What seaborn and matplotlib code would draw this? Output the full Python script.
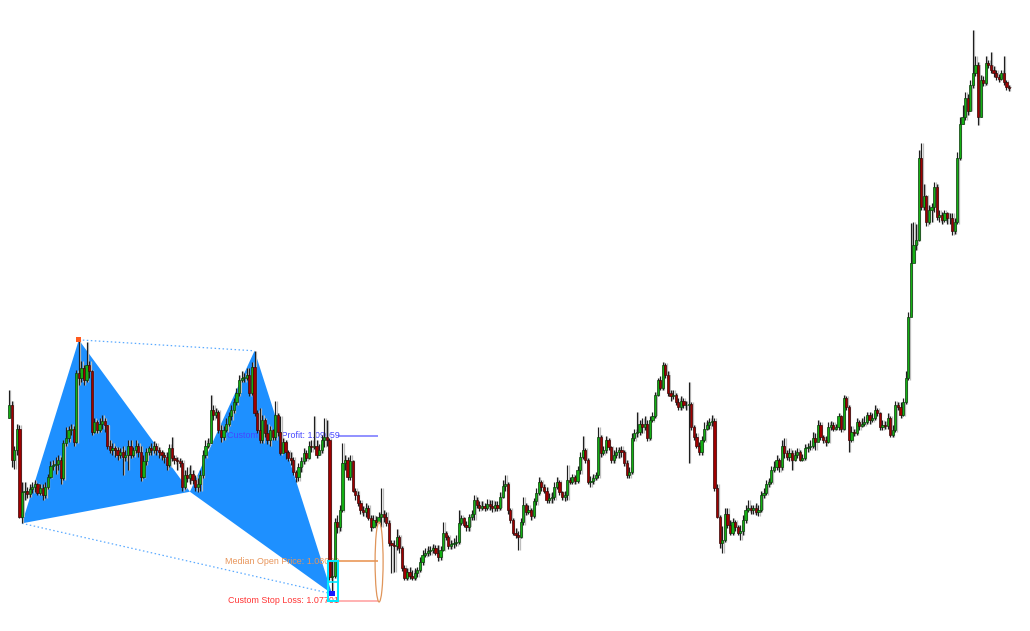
import matplotlib
matplotlib.use("Agg")
import matplotlib.pyplot as plt
from matplotlib.patches import Polygon, Rectangle, Ellipse
import numpy as np
import pandas as pd
import seaborn as sns

# ------------------------------------------------------------------
#  Candle data, open = previous close
# ------------------------------------------------------------------
first_open = 1.0921

closes = [
    # X -> A -> B leg
    1.0931, 1.0886, 1.0894, 1.0912, 1.0839, 1.0860, 1.0861, 1.0858, 1.0862, 1.0864,
    1.0866, 1.0859, 1.0863, 1.0857, 1.0864, 1.0872, 1.0881, 1.0882, 1.0883, 1.0886,
    1.0871, 1.0900, 1.0904, 1.0911, 1.0912, 1.0901, 1.0958, 1.0954, 1.0962, 1.0952,
    1.0964, 1.0959, 1.0909, 1.0917, 1.0911, 1.0916, 1.0918, 1.0915, 1.0898, 1.0894,
    1.0896, 1.0894, 1.0890, 1.0893, 1.0889, 1.0890, 1.0898,
    1.0890, 1.0894, 1.0898, 1.0893, 1.0872, 1.0885, 1.0893, 1.0896, 1.0894, 1.0898,
    1.0894, 1.0893, 1.0890, 1.0889, 1.0882, 1.0896, 1.0888, 1.0886, 1.0885, 1.0884,
    1.0864, 1.0874, 1.0871, 1.0875, 1.0870, 1.0864, 1.0866, 1.0874, 1.0890, 1.0898,
    1.0900, 1.0927, 1.0923, 1.0926, 1.0911, 1.0905, 1.0911, 1.0916, 1.0922, 1.0927,
    1.0934, 1.0941, 1.0952, 1.0954, 1.0954, 1.0956, 1.0941, 1.0963, 1.0925, 1.0911,
    # C -> D leg and rebound
    1.0903, 1.0919, 1.0908, 1.0903, 1.0911, 1.0905, 1.0923, 1.0909, 1.0892, 1.0901,
    1.0893, 1.0888, 1.0886, 1.0876, 1.0872, 1.0880, 1.0885, 1.0892, 1.0888, 1.0898,
    1.0897, 1.0898, 1.0890, 1.0894, 1.0903, 1.0905, 1.0903, 1.0790, 1.0791, 1.0835,
    1.0831, 1.0845, 1.0884, 1.0886, 1.0872, 1.0885, 1.0861, 1.0857, 1.0851, 1.0845,
    1.0843, 1.0847, 1.0838, 1.0831, 1.0837, 1.0835,
    1.0839, 1.0842, 1.0839, 1.0834, 1.0818, 1.0816,
    # bottom and slow climb
    1.0815, 1.0823, 1.0814, 1.0797, 1.0789, 1.0794, 1.0791, 1.0789, 1.0793, 1.0796,
    1.0802, 1.0808, 1.0810, 1.0811,
    1.0812, 1.0814, 1.0810, 1.0806, 1.0812, 1.0826, 1.0823, 1.0815, 1.0817, 1.0818,
    1.0819, 1.0834, 1.0838, 1.0833, 1.0831, 1.0839, 1.0842, 1.0853, 1.0849, 1.0847,
    1.0848, 1.0847, 1.0850, 1.0848,
    1.0847, 1.0849, 1.0847, 1.0856, 1.0865, 1.0866, 1.0845, 1.0837, 1.0826, 1.0824,
    1.0823, 1.0835, 1.0849, 1.0843, 1.0845, 1.0840, 1.0852, 1.0859, 1.0868, 1.0864,
    1.0861, 1.0853, 1.0855,
    1.0856, 1.0864, 1.0868, 1.0860, 1.0856, 1.0857, 1.0870, 1.0868, 1.0872, 1.0869,
    1.0878, 1.0889, 1.0894, 1.0886, 1.0868, 1.0869, 1.0871, 1.0874, 1.0905, 1.0892,
    1.0894, 1.0903, 1.0897, 1.0886, 1.0890, 1.0893,
    1.0894, 1.0893, 1.0884, 1.0874, 1.0876, 1.0904, 1.0908, 1.0909, 1.0916, 1.0913,
    1.0916,
    # swing high and drop
    1.0904, 1.0919, 1.0922, 1.0940, 1.0952, 1.0945, 1.0964, 1.0956, 1.0941, 1.0939,
    1.0940, 1.0934, 1.0930, 1.0935, 1.0931, 1.0931, 1.0932, 1.0913, 1.0905, 1.0898,
    1.0893, 1.0903, 1.0912, 1.0915, 1.0917, 1.0918, 1.0863, 1.0839, 1.0818, 1.0820,
    1.0842, 1.0833, 1.0826, 1.0835, 1.0831, 1.0826, 1.0828, 1.0837, 1.0845, 1.0847,
    1.0845, 1.0847, 1.0843, 1.0845, 1.0857, 1.0859, 1.0866, 1.0868, 1.0878, 1.0880,
    1.0886, 1.0880, 1.0898,
    # range then breakout
    1.0892, 1.0889, 1.0892, 1.0886, 1.0890, 1.0893, 1.0886, 1.0888, 1.0896, 1.0897,
    1.0898, 1.0904, 1.0901, 1.0915, 1.0905, 1.0903, 1.0901, 1.0913, 1.0915, 1.0912,
    1.0913, 1.0922, 1.0912, 1.0937, 1.0930, 1.0903, 1.0909, 1.0908, 1.0917, 1.0914,
    1.0916, 1.0917, 1.0923, 1.0919, 1.0921, 1.0927, 1.0925, 1.0913, 1.0915, 1.0914,
    1.0921, 1.0907, 1.0911, 1.0931, 1.0930, 1.0923, 1.0934, 1.0954, 1.1004, 1.1048,
    1.1063, 1.1067, 1.1135, 1.1094, 1.1103, 1.1082, 1.1092, 1.1094, 1.1111, 1.1086,
    1.1088, 1.1084, 1.1089, 1.1085, 1.1085, 1.1075, 1.1082, 1.1135, 1.1163, 1.1168,
    1.1184, 1.1173, 1.1195, 1.1205, 1.1211, 1.1168, 1.1199, 1.1196, 1.1213, 1.1211,
    1.1207, 1.1205, 1.1201, 1.1200, 1.1205, 1.1197, 1.1193, 1.1192,
]

highs = [
    1.0944, 1.0935, 1.0898, 1.0916, 1.0915, 1.0868, 1.0868, 1.0864, 1.0866, 1.0868,
    1.0870, 1.0867, 1.0866, 1.0866, 1.0868, 1.0875, 1.0885, 1.0886, 1.0889, 1.0890,
    1.0889, 1.0903, 1.0913, 1.0914, 1.0916, 1.0914, 1.0960, 1.0985, 1.0968, 1.0964,
    1.0983, 1.0968, 1.0960, 1.0921, 1.0919, 1.0921, 1.0923, 1.0921, 1.0915, 1.0903,
    1.0900, 1.0898, 1.0897, 1.0896, 1.0898, 1.0894, 1.0903,
    1.0903, 1.0897, 1.0903, 1.0900, 1.0898, 1.0890, 1.0896, 1.0898, 1.0900, 1.0902,
    1.0900, 1.0897, 1.0894, 1.0893, 1.0893, 1.0899, 1.0905, 1.0890, 1.0889, 1.0888,
    1.0886, 1.0878, 1.0880, 1.0882, 1.0878, 1.0874, 1.0871, 1.0878, 1.0894, 1.0903,
    1.0904, 1.0940, 1.0931, 1.0929, 1.0927, 1.0915, 1.0914, 1.0921, 1.0926, 1.0931,
    1.0937, 1.0945, 1.0956, 1.0959, 1.0958, 1.0962, 1.0962, 1.0967, 1.0976, 1.0927,
    1.0929, 1.0923, 1.0921, 1.0916, 1.0914, 1.0912, 1.0935, 1.0925, 1.0922, 1.0904,
    1.0903, 1.0894, 1.0893, 1.0889, 1.0878, 1.0884, 1.0889, 1.0896, 1.0894, 1.0902,
    1.0903, 1.0922, 1.0903, 1.0899, 1.0907, 1.0921, 1.0919, 1.0904, 1.0804, 1.0838,
    1.0841, 1.0849, 1.0900, 1.0890, 1.0889, 1.0890, 1.0886, 1.0863, 1.0861, 1.0853,
    1.0848, 1.0851, 1.0849, 1.0841, 1.0841, 1.0840,
    1.0843, 1.0863, 1.0845, 1.0843, 1.0837, 1.0820,
    1.0820, 1.0829, 1.0824, 1.0815, 1.0800, 1.0797, 1.0798, 1.0796, 1.0797, 1.0798,
    1.0806, 1.0812, 1.0814, 1.0815,
    1.0815, 1.0817, 1.0816, 1.0816, 1.0815, 1.0835, 1.0828, 1.0824, 1.0820, 1.0822,
    1.0824, 1.0845, 1.0841, 1.0839, 1.0836, 1.0842, 1.0845, 1.0857, 1.0856, 1.0852,
    1.0852, 1.0851, 1.0854, 1.0853,
    1.0853, 1.0852, 1.0852, 1.0860, 1.0870, 1.0874, 1.0868, 1.0847, 1.0838, 1.0830,
    1.0828, 1.0838, 1.0856, 1.0851, 1.0849, 1.0847, 1.0855, 1.0863, 1.0872, 1.0870,
    1.0866, 1.0864, 1.0859,
    1.0860, 1.0868, 1.0872, 1.0870, 1.0861, 1.0861, 1.0882, 1.0872, 1.0875, 1.0874,
    1.0881, 1.0893, 1.0906, 1.0896, 1.0888, 1.0873, 1.0875, 1.0876, 1.0913, 1.0907,
    1.0898, 1.0906, 1.0904, 1.0898, 1.0894, 1.0897,
    1.0897, 1.0898, 1.0894, 1.0886, 1.0880, 1.0908, 1.0912, 1.0926, 1.0919, 1.0921,
    1.0922,
    1.0919, 1.0922, 1.0926, 1.0942, 1.0954, 1.0955, 1.0967, 1.0966, 1.0959, 1.0944,
    1.0944, 1.0941, 1.0937, 1.0939, 1.0937, 1.0935, 1.0950, 1.0934, 1.0915, 1.0908,
    1.0901, 1.0906, 1.0917, 1.0919, 1.0921, 1.0923, 1.0921, 1.0866, 1.0841, 1.0832,
    1.0847, 1.0847, 1.0837, 1.0838, 1.0837, 1.0833, 1.0833, 1.0841, 1.0849, 1.0853,
    1.0849, 1.0849, 1.0851, 1.0849, 1.0861, 1.0863, 1.0870, 1.0871, 1.0881, 1.0885,
    1.0890, 1.0888, 1.0903,
    1.0904, 1.0894, 1.0896, 1.0894, 1.0894, 1.0896, 1.0894, 1.0891, 1.0899, 1.0900,
    1.0903, 1.0909, 1.0908, 1.0919, 1.0917, 1.0907, 1.0906, 1.0917, 1.0918, 1.0917,
    1.0916, 1.0925, 1.0923, 1.0940, 1.0939, 1.0931, 1.0914, 1.0912, 1.0921, 1.0919,
    1.0921, 1.0922, 1.0926, 1.0926, 1.0925, 1.0931, 1.0929, 1.0926, 1.0919, 1.0918,
    1.0925, 1.0922, 1.0915, 1.0935, 1.0934, 1.0934, 1.0937, 1.0959, 1.1008, 1.1081,
    1.1082, 1.1080, 1.1141, 1.1147, 1.1113, 1.1104, 1.1096, 1.1098, 1.1115, 1.1113,
    1.1092, 1.1090, 1.1092, 1.1090, 1.1089, 1.1089, 1.1085, 1.1140, 1.1168, 1.1178,
    1.1189, 1.1187, 1.1199, 1.1240, 1.1219, 1.1214, 1.1203, 1.1202, 1.1219, 1.1215,
    1.1222, 1.1210, 1.1207, 1.1204, 1.1207, 1.1219, 1.1199, 1.1195,
]

lows = [
    1.0921, 1.0880, 1.0879, 1.0890, 1.0838, 1.0834, 1.0853, 1.0855, 1.0856, 1.0859,
    1.0860, 1.0857, 1.0857, 1.0853, 1.0855, 1.0862, 1.0871, 1.0878, 1.0875, 1.0878,
    1.0866, 1.0870, 1.0898, 1.0901, 1.0907, 1.0898, 1.0900, 1.0948, 1.0950, 1.0948,
    1.0950, 1.0954, 1.0907, 1.0908, 1.0908, 1.0909, 1.0912, 1.0909, 1.0895, 1.0892,
    1.0890, 1.0889, 1.0886, 1.0888, 1.0874, 1.0885, 1.0878,
    1.0888, 1.0889, 1.0892, 1.0889, 1.0869, 1.0871, 1.0882, 1.0890, 1.0890, 1.0892,
    1.0890, 1.0888, 1.0886, 1.0884, 1.0878, 1.0880, 1.0885, 1.0883, 1.0878, 1.0880,
    1.0861, 1.0862, 1.0868, 1.0866, 1.0866, 1.0861, 1.0860, 1.0861, 1.0871, 1.0888,
    1.0896, 1.0900, 1.0919, 1.0921, 1.0908, 1.0901, 1.0903, 1.0909, 1.0914, 1.0919,
    1.0925, 1.0931, 1.0939, 1.0950, 1.0950, 1.0952, 1.0939, 1.0940, 1.0922, 1.0908,
    1.0900, 1.0900, 1.0905, 1.0899, 1.0898, 1.0903, 1.0903, 1.0906, 1.0890, 1.0894,
    1.0887, 1.0885, 1.0882, 1.0874, 1.0868, 1.0869, 1.0876, 1.0883, 1.0885, 1.0887,
    1.0893, 1.0895, 1.0888, 1.0890, 1.0892, 1.0897, 1.0898, 1.0787, 1.0776, 1.0789,
    1.0826, 1.0828, 1.0843, 1.0878, 1.0870, 1.0870, 1.0860, 1.0853, 1.0848, 1.0842,
    1.0840, 1.0839, 1.0837, 1.0828, 1.0830, 1.0832,
    1.0834, 1.0831, 1.0835, 1.0832, 1.0815, 1.0793,
    1.0794, 1.0812, 1.0810, 1.0795, 1.0787, 1.0787, 1.0788, 1.0787, 1.0787, 1.0790,
    1.0794, 1.0800, 1.0806, 1.0807,
    1.0808, 1.0810, 1.0808, 1.0803, 1.0804, 1.0811, 1.0820, 1.0813, 1.0813, 1.0814,
    1.0815, 1.0817, 1.0833, 1.0831, 1.0828, 1.0828, 1.0837, 1.0837, 1.0847, 1.0844,
    1.0845, 1.0844, 1.0845, 1.0845,
    1.0843, 1.0844, 1.0844, 1.0845, 1.0855, 1.0861, 1.0842, 1.0834, 1.0824, 1.0822,
    1.0812, 1.0822, 1.0833, 1.0841, 1.0842, 1.0837, 1.0838, 1.0849, 1.0857, 1.0861,
    1.0859, 1.0851, 1.0851,
    1.0851, 1.0853, 1.0862, 1.0857, 1.0853, 1.0852, 1.0853, 1.0866, 1.0866, 1.0866,
    1.0867, 1.0875, 1.0887, 1.0884, 1.0866, 1.0864, 1.0866, 1.0870, 1.0871, 1.0889,
    1.0890, 1.0892, 1.0894, 1.0884, 1.0884, 1.0888,
    1.0888, 1.0889, 1.0881, 1.0871, 1.0871, 1.0875, 1.0902, 1.0905, 1.0907, 1.0908,
    1.0911,
    1.0902, 1.0903, 1.0917, 1.0921, 1.0939, 1.0944, 1.0944, 1.0954, 1.0939, 1.0935,
    1.0936, 1.0931, 1.0927, 1.0927, 1.0929, 1.0927, 1.0884, 1.0911, 1.0903, 1.0896,
    1.0890, 1.0890, 1.0901, 1.0911, 1.0912, 1.0914, 1.0861, 1.0838, 1.0814, 1.0810,
    1.0819, 1.0830, 1.0824, 1.0824, 1.0828, 1.0824, 1.0820, 1.0824, 1.0834, 1.0843,
    1.0842, 1.0842, 1.0841, 1.0840, 1.0843, 1.0855, 1.0857, 1.0864, 1.0866, 1.0876,
    1.0878, 1.0876, 1.0878,
    1.0888, 1.0886, 1.0885, 1.0878, 1.0885, 1.0888, 1.0885, 1.0885, 1.0886, 1.0893,
    1.0894, 1.0896, 1.0894, 1.0903, 1.0903, 1.0900, 1.0898, 1.0900, 1.0911, 1.0910,
    1.0911, 1.0911, 1.0909, 1.0911, 1.0927, 1.0893, 1.0901, 1.0906, 1.0907, 1.0911,
    1.0913, 1.0914, 1.0916, 1.0916, 1.0917, 1.0919, 1.0922, 1.0911, 1.0911, 1.0912,
    1.0912, 1.0905, 1.0905, 1.0909, 1.0927, 1.0921, 1.0922, 1.0932, 1.0952, 1.1008,
    1.1049, 1.1059, 1.1066, 1.1092, 1.1092, 1.1079, 1.1080, 1.1082, 1.1090, 1.1084,
    1.1082, 1.1080, 1.1082, 1.1080, 1.1080, 1.1071, 1.1072, 1.1080, 1.1133, 1.1163,
    1.1166, 1.1170, 1.1173, 1.1192, 1.1202, 1.1162, 1.1168, 1.1194, 1.1195, 1.1209,
    1.1205, 1.1201, 1.1199, 1.1197, 1.1199, 1.1195, 1.1191, 1.1190,
]

# Harmonic pattern points (candle index, price)
pattern_labels = ["X", "A", "B", "C", "D"]
pattern_idx = [5, 27, 70, 95, 125]
pattern_price = [1.0834, 1.0985, 1.0860, 1.0976, 1.0776]

# Trade levels
take_profit = 1.09059
median_open = 1.08030
stop_loss = 1.07701
box_mid = 1.0786

# ------------------------------------------------------------------
#  Figure
# ------------------------------------------------------------------
sns.set_theme(style="white")
plt.rcParams["font.family"] = ["Liberation Sans", "DejaVu Sans"]

df = pd.DataFrame({"close": closes, "high": highs, "low": lows})
df["open"] = [first_open] + closes[:-1]
df["idx"] = np.arange(len(df))
up = (df["close"] >= df["open"]).to_numpy()

fig = plt.figure(figsize=(10.30, 6.31), dpi=100)
ax = fig.add_axes([0, 0, 1, 1])
ax.set_xlim(-3.51, 395.1)
ax.set_ylim(1.07454, 1.12647)
ax.axis("off")

pts = list(zip(pattern_idx, pattern_price))
X, A, B, C, D = pts

# pattern triangles
for tri in ([X, A, B], [B, C, D]):
    ax.add_patch(Polygon(tri, closed=True, facecolor="#1e90ff",
                         edgecolor="none", zorder=1))

# dotted guide lines X-D and A-C
for p, q in ((X, D), (A, C)):
    ax.plot([p[0], q[0]], [p[1], q[1]], color="#5aaaff", lw=0.9,
            ls=(0, (1.2, 2.0)), zorder=2)

# trade level lines + labels
lvl_x0, lvl_x1, lbl_x = 127.3, 142.8, 127.8
levels = [
    ("Custom Take Profit: 1.09059", take_profit, "#7373ff", "#4646ff"),
    ("Median Open Price: 1.08030", median_open, "#e8904a", "#e8955a"),
    ("Custom Stop Loss: 1.07701", stop_loss, "#ff9c9c", "#ff3434"),
]
for text, price, lcol, tcol in levels:
    ax.hlines(price, lvl_x0, lvl_x1, color=lcol, lw=1.1, zorder=2)
    ax.text(lbl_x, price, text, ha="right", va="center", fontsize=6.4,
            color=tcol, zorder=2)

# candles: light grey shadow, then wick and body
body_lo = np.minimum(df["open"], df["close"])
body_h = np.maximum((df["close"] - df["open"]).abs(), 0.00004)
ax.vlines(df["idx"] + 0.55, df["low"], df["high"], color="#bdbdbd", lw=0.9, zorder=3)
ax.bar(df["idx"] + 0.55, body_h, bottom=body_lo, width=0.85,
       color="#bdbdbd", linewidth=0, zorder=3)
ax.vlines(df["idx"], df["low"], df["high"], color="#1e1e1e", lw=0.85, zorder=4)
ax.bar(df["idx"], body_h, bottom=body_lo, width=0.85,
       color=np.where(up, "#14b014", "#a00000"),
       edgecolor=np.where(up, "#0c3a0c", "#3a0707"), linewidth=0.5, zorder=4)

# cyan entry box at D and orange ellipse
ax.add_patch(Rectangle((123.6, stop_loss), 3.8, median_open - stop_loss,
                       fill=False, edgecolor="#00e8ff", lw=1.5, zorder=5))
ax.hlines(box_mid, 123.7, 127.4, color="#00e8ff", lw=1.2, zorder=5)
ax.add_patch(Ellipse((143.2, 1.08022), width=3.1, height=0.00658,
                     fill=False, edgecolor="#e0955a", lw=0.9, zorder=5))

# pattern point markers
marks = pd.DataFrame({"idx": [A[0], D[0]], "price": [A[1], D[1]],
                      "pt": ["A", "D"]})
sns.scatterplot(data=marks, x="idx", y="price", hue="pt",
                palette={"A": "#ff5a1e", "D": "#1a1aff"}, marker="s", s=14,
                linewidth=0, legend=False, ax=ax, zorder=6)
ax.axis("off")

fig.savefig("out.png", dpi=100)
